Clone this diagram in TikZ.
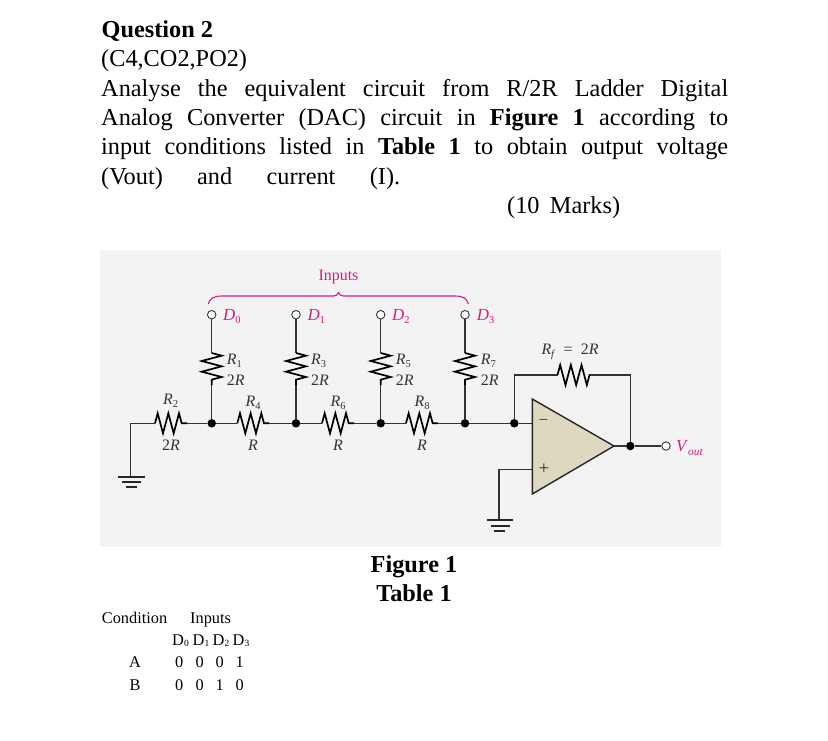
\documentclass[tikz,border=0pt]{standalone}
\usepackage{fontspec}
\setmainfont{Liberation Serif}
\usetikzlibrary{decorations.pathmorphing}
\definecolor{figbg}{HTML}{F3F3F3}
\definecolor{magent}{HTML}{D81B84}
\definecolor{ampfill}{HTML}{DFD8C0}
\definecolor{figtext}{HTML}{333333}
\newcommand{\bodysize}{\fontsize{24.4}{26}\selectfont}
\newcommand{\tabsize}{\fontsize{16.4}{18}\selectfont}
\newcommand{\figsize}{\fontsize{16}{18}\selectfont}
\newcommand{\subfig}[2]{\textit{#1}\raisebox{-3.5bp}{\fontsize{10.5}{11}\selectfont #2}}
\newcommand{\subtab}[1]{D\raisebox{-1bp}{\fontsize{9.5}{10}\selectfont #1}}
\newcommand{\justline}[1]{\hbox to 627bp{#1}}
\tikzset{
  x=1bp, y=-1bp,
  body/.style={anchor=base west, inner sep=0pt, font=\bodysize, text=black},
  bodyc/.style={anchor=base, inner sep=0pt, font=\bodysize\bfseries, text=black},
  tab/.style={anchor=base west, inner sep=0pt, font=\tabsize, text=black},
  tabc/.style={anchor=base, inner sep=0pt, font=\tabsize, text=black},
  wire/.style={draw=black!80, line width=1.2bp},
  resistor/.style={draw=black, line width=1.7bp, line join=miter, decorate,
    decoration={zigzag, amplitude=10bp, segment length=10.67bp}},
  jdot/.style={circle, fill=black, inner sep=0pt, minimum size=8.5bp},
  odot/.style={circle, draw=black!80, fill=white, line width=0.9bp, inner sep=0pt, minimum size=8.5bp},
  flab/.style={anchor=west, inner sep=0pt, font=\figsize, text=figtext},
  flabc/.style={anchor=center, inner sep=0pt, font=\figsize, text=figtext},
  mlab/.style={anchor=west, inner sep=0pt, font=\fontsize{17}{18}\selectfont, text=magent},
  gbar/.style={draw=black!85, line width=1.8bp},
}
\begin{document}
\begin{tikzpicture}
\useasboundingbox (0,0) rectangle (828,741);
\fill[white] (0,0) rectangle (828,741);
\node[body, font=\bodysize\bfseries] (q) at (101.500,38) {Question 2};
\node[body] (co) at (101,67) {(C4,CO2,PO2)};
\node[body] (l1) at (101,96) {\justline{Analyse\hfill the\hfill equivalent\hfill circuit\hfill from\hfill R/2R\hfill Ladder\hfill Digital}};
\node[body] (l2) at (101,125) {\justline{Analog\hfill Converter\hfill (DAC)\hfill circuit\hfill in\hfill \textbf{Figure\hfill 1}\hfill according\hfill to}};
\node[body] (l3) at (101,154.500) {\justline{input\hfill conditions\hfill listed\hfill in\hfill \textbf{Table\hfill 1}\hfill to\hfill obtain\hfill output\hfill voltage}};
\node[body] (l4) at (101,184) {\hbox to 299bp{(Vout)\hfill and\hfill current\hfill (I).}};
\node[body] (marks) at (507,213) {\hbox to 113bp{(10\hfill Marks)}};
\fill[figbg] (100,250) rectangle (721,547);
% nodes
\node[jdot] (j0) at (211.7,423.3) {};
\node[jdot] (j1) at (296,423.3) {};
\node[jdot] (j2) at (380.7,423.3) {};
\node[jdot] (j3) at (465,423.3) {};
\node[jdot] (j4) at (514.3,423.3) {};
\node[odot] (d0) at (211.7,314.7) {};
\node[odot] (d1) at (296,314.7) {};
\node[odot] (d2) at (380.7,314.7) {};
\node[odot] (d3) at (465,314.7) {};
\coordinate (g1) at (130.7,476.7);
\coordinate (c1) at (130.7,423.3);
\coordinate (g2) at (499,520);
\coordinate (c2) at (499,469.3);
% op-amp
\draw[fill=ampfill, draw=black!85, line width=1.4bp] (532.3,399) coordinate (ampt) -- (614,446) coordinate (amptip) -- (532.3,494) coordinate (ampb) -- cycle;
\coordinate (inm) at (532.3,423.3);
\coordinate (inp) at (532.3,469.3);
\node[jdot] (jo) at (630.3,446) {};
\node[odot] (vo) at (666,446) {};
% resistor ends
\coordinate (R1a) at (211.7,353); \coordinate (R1b) at (211.7,385);
\coordinate (R3a) at (296,353); \coordinate (R3b) at (296,385);
\coordinate (R5a) at (380.7,353); \coordinate (R5b) at (380.7,385);
\coordinate (R7a) at (465,353); \coordinate (R7b) at (465,385);
\coordinate (R2a) at (155,423.3); \coordinate (R2b) at (187,423.3);
\coordinate (R4a) at (237.3,423.3); \coordinate (R4b) at (269.3,423.3);
\coordinate (R6a) at (322,423.3); \coordinate (R6b) at (354,423.3);
\coordinate (R8a) at (406,423.3); \coordinate (R8b) at (438,423.3);
\coordinate (Rfa) at (557.5,375); \coordinate (Rfb) at (590,375);
\coordinate (fl) at (514.3,375); \coordinate (fr) at (630.3,375);
% wires
\foreach \d/\a/\b/\j in {d0/R1a/R1b/j0,d1/R3a/R3b/j1,d2/R5a/R5b/j2,d3/R7a/R7b/j3}{
  \draw[wire] (\d) -- (\a);
  \draw[resistor] (\a) -- (\b);
  \draw[wire] (\b) -- (\j);
}
\draw[wire] (g1) -- (c1) -- (R2a);
\draw[resistor] (R2a) -- (R2b);
\draw[wire] (R2b) -- (j0) -- (R4a);
\draw[resistor] (R4a) -- (R4b);
\draw[wire] (R4b) -- (j1) -- (R6a);
\draw[resistor] (R6a) -- (R6b);
\draw[wire] (R6b) -- (j2) -- (R8a);
\draw[resistor] (R8a) -- (R8b);
\draw[wire] (R8b) -- (j3) -- (j4) -- (inm);
\draw[wire] (j4) -- (fl) -- (Rfa);
\draw[resistor] (Rfa) -- (Rfb);
\draw[wire] (Rfb) -- (fr) -- (jo);
\draw[wire] (amptip) -- (jo) -- (vo);
\draw[wire] (inp) -- (c2) -- (g2);
% grounds
\draw[gbar] (118.3,476.7) -- (145,476.7);
\draw[gbar] (122,482) -- (141,482);
\draw[gbar] (126,487) -- (137,487);
\draw[gbar] (486.500,520) -- (513,520);
\draw[gbar] (490.500,525.700) -- (509.500,525.700);
\draw[gbar] (494,530.700) -- (505,530.700);
% brace
\draw[magent, line width=1.1bp] (208.3,304) .. controls (209.5,298.5) and (214,296) .. (222,296) -- (333.5,296) .. controls (336,296) and (337.5,295) .. (338.5,292.5) .. controls (339.5,295) and (341,296) .. (343.5,296) -- (455,296) .. controls (463,296) and (467,298.5) .. (468.3,304);
\node[anchor=center, inner sep=0pt, font=\figsize, text=magent] (inputs) at (338.5,277) {Inputs};
\node[mlab] (ld0) at (223,316.500) {\subfig{D}{0}};
\node[mlab] (ld1) at (307.500,316.500) {\subfig{D}{1}};
\node[mlab] (ld2) at (392,316.500) {\subfig{D}{2}};
\node[mlab] (ld3) at (476.700,316.500) {\subfig{D}{3}};
\node[mlab] (lvo) at (676,448) {\textit{V}\raisebox{-4bp}{\fontsize{11.5}{12}\selectfont\textit{out}}};
% labels
\foreach \x/\n/\i in {226.7/1/a,311/3/b,395.7/5/c,480.6/7/d}{
  \node[flab] (rl\i) at (\x,361) {\subfig{R}{\n}};
  \node[flab] (vl\i) at (\x,380) {2\textit{R}};
}
\foreach \x/\n/\i in {253/4/a,338/6/b,422/8/c}{
  \node[flabc] (hl\i) at (\x,403) {\subfig{R}{\n}};
  \node[flabc] (hv\i) at (\x,445) {\textit{R}};
}
\node[flabc] (r2l) at (170.7,401) {\subfig{R}{2}};
\node[flabc] (r2v) at (171,445) {2\textit{R}};
\node[flabc] (rf) at (570,352) {\hbox to 57bp{\subfig{R}{\textit{f}}\hfill =\hfill 2\textit{R}}};
\node[anchor=center, inner sep=0pt, font=\fontsize{17}{18}\selectfont, text=figtext] (minus) at (543.500,422.500) {−};
\node[anchor=center, inner sep=0pt, font=\fontsize{19}{20}\selectfont, text=figtext] (plus) at (544,469.500) {+};
% caption
\node[bodyc] (fig) at (414,572.500) {Figure 1};
\node[bodyc] (tbl) at (414,601.500) {Table 1};
% table
\node[tab] (tc) at (101.700,623.500) {Condition};
\node[tab] (ti) at (190,623.500) {Inputs};
\node[tabc] (a) at (135,667) {A};
\node[tabc] (b) at (135,690) {B};
\foreach \x/\n/\u/\v in {172/0/0/0,192.500/1/0/0,212.500/2/0/1,232.500/3/1/0}{
  \node[tab] at (\x,645) {\subtab{\n}};
  \node[tabc] at (\x+7.300,667) {\u};
  \node[tabc] at (\x+7.300,690) {\v};
}
\end{tikzpicture}
\end{document}
